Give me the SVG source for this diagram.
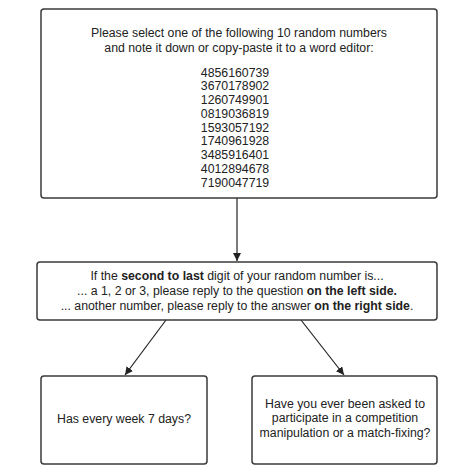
<svg xmlns="http://www.w3.org/2000/svg" width="474" height="474" viewBox="0 0 474 474">
<style>
.box{fill:#fff;stroke:#3a3a3a;stroke-width:1.5}
text{font-family:"Liberation Sans",Arial,sans-serif;font-size:12.3px;fill:#222;text-anchor:middle}
.b{font-weight:bold}
.c{stroke:#222;stroke-width:1.2;fill:none}
</style>
<defs>
<marker id="ah" viewBox="0 0 10 10" refX="10" refY="5" markerWidth="8" markerHeight="8" markerUnits="userSpaceOnUse" orient="auto">
<path d="M0,0 L10,5 L0,10 z" fill="#222"/>
</marker>
</defs>
<rect width="474" height="474" fill="#fff"/>
<g id="connectors">
<line class="c" x1="237" y1="198" x2="237" y2="261" marker-end="url(#ah)"/>
<line class="c" x1="166" y1="320" x2="125" y2="375" marker-end="url(#ah)"/>
<line class="c" x1="301" y1="320" x2="344" y2="375" marker-end="url(#ah)"/>
</g>
<g id="top">
<rect class="box" x="41" y="9" width="396" height="189" rx="3"/>
<text x="239" y="36.5">Please select one of the following 10 random numbers</text>
<text x="239" y="51.5">and note it down or copy-paste it to a word editor:</text>
<text x="235" y="76.5">4856160739</text>
<text x="235" y="90.25">3670178902</text>
<text x="235" y="104">1260749901</text>
<text x="235" y="117.75">0819036819</text>
<text x="235" y="131.5">1593057192</text>
<text x="235" y="145.25">1740961928</text>
<text x="235" y="159">3485916401</text>
<text x="235" y="172.75">4012894678</text>
<text x="235" y="186.5">7190047719</text>
</g>
<g id="middle">
<rect class="box" x="37" y="262" width="400" height="58" rx="3"/>
<text x="237" y="279.5">If the <tspan class="b">second to last</tspan> digit of your random number is...</text>
<text x="237" y="294.5">... a 1, 2 or 3, please reply to the question <tspan class="b">on the left side.</tspan></text>
<text x="237" y="309.5">... another number, please reply to the answer <tspan class="b">on the right side</tspan>.</text>
</g>
<g id="left">
<rect class="box" x="41" y="376" width="166" height="88" rx="3"/>
<text x="124" y="422.5">Has every week 7 days?</text>
</g>
<g id="right">
<rect class="box" x="252" y="376" width="185" height="88" rx="3"/>
<text x="345" y="407.5">Have you ever been asked to</text>
<text x="345" y="422">participate in a competition</text>
<text x="345" y="436.5">manipulation or a match-fixing?</text>
</g>
</svg>
